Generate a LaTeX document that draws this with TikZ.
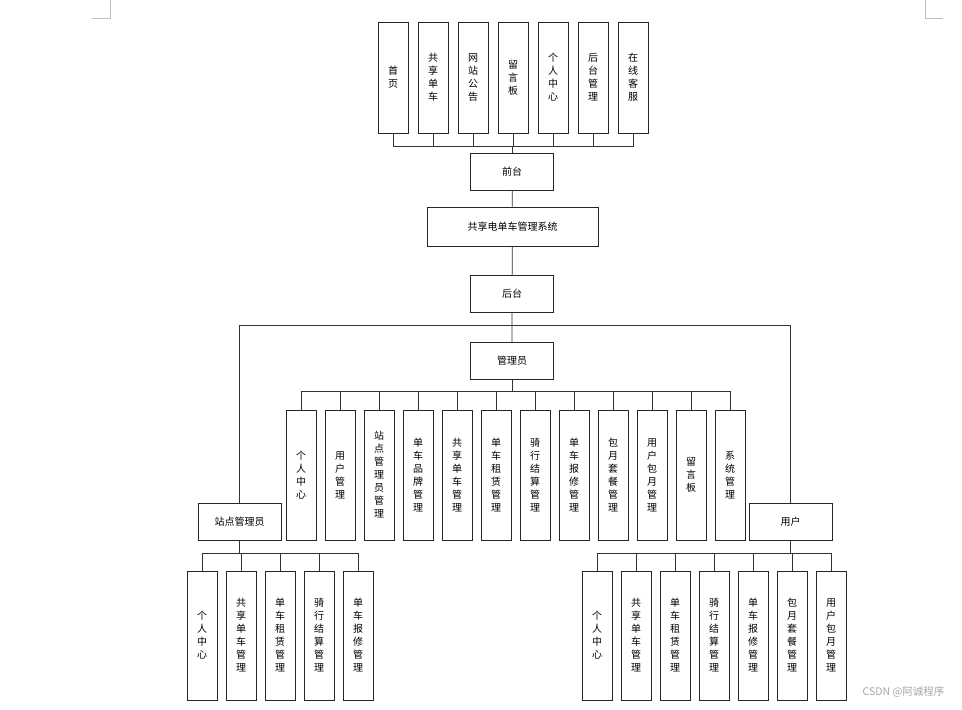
\documentclass[tikz,border=0pt]{standalone}
\usepackage{fontspec}
\newfontfamily\cjk{Noto Sans CJK SC}
\begin{document}
\begin{tikzpicture}[x=1pt,y=-1pt,
  box/.style={draw=black!85,line width=0.8pt,fill=white,font=\cjk\fontsize{10}{13}\selectfont,inner sep=0pt,align=center},
  vbox/.style={box,minimum width=30pt,minimum height=#1},
  hbox/.style={box,minimum width=83pt,minimum height=37pt},
  ln/.style={draw=black!80,line width=0.8pt}]
\useasboundingbox (0,0) rectangle (962,710);
\fill[white] (0,0) rectangle (962,710);
\draw[black!25] (110,0)--(110,18)--(92,18) (925,0)--(925,18)--(943,18);
% top level
\node[hbox] (qt) at (512,171.5) {前台};
\node[box,minimum width=171pt,minimum height=39pt] (sys) at (512.5,226.5) {共享电单车管理系统};
\node[hbox] (ht) at (512,293.5) {后台};
\node[hbox] (gly) at (512,361) {管理员};
\node[hbox] (zd) at (239.5,521.5) {站点管理员};
\node[hbox] (yh) at (790.5,521.5) {用户};
\draw[ln] (qt)--(sys) (sys)--(ht) (ht)--(gly);
\coordinate (cl) at (239.5,325);
\coordinate (cr) at (790.5,325);
\draw[ln] (zd.north)--(cl)--(cr)--(yh.north);
% front children
\foreach \t [count=\i from 0] in {首\\页,共\\享\\单\\车,网\\站\\公\\告,留\\言\\板,个\\人\\中\\心,后\\台\\管\\理,在\\线\\客\\服}{
  \node[vbox=111pt] (f\i) at (393+40*\i,77.5) {\t};
  \draw[ln] (f\i.south)--++(0,13)-|(qt.north);
}
% admin children
\foreach \t [count=\i from 0] in {个\\人\\中\\心,用\\户\\管\\理,站\\点\\管\\理\\员\\管\\理,单\\车\\品\\牌\\管\\理,共\\享\\单\\车\\管\\理,单\\车\\租\\赁\\管\\理,骑\\行\\结\\算\\管\\理,单\\车\\报\\修\\管\\理,包\\月\\套\\餐\\管\\理,用\\户\\包\\月\\管\\理,留\\言\\板,系\\统\\管\\理}{
  \node[vbox=130pt] (a\i) at (301+39*\i,475) {\t};
  \draw[ln] (a\i.north)--++(0,-18)-|(gly.south);
}
% station children
\foreach \t [count=\i from 0] in {个\\人\\中\\心,共\\享\\单\\车\\管\\理,单\\车\\租\\赁\\管\\理,骑\\行\\结\\算\\管\\理,单\\车\\报\\修\\管\\理}{
  \node[vbox=129pt] (s\i) at (202+39*\i,635.5) {\t};
  \draw[ln] (s\i.north)--++(0,-17)-|(zd.south);
}
% user children
\foreach \t [count=\i from 0] in {个\\人\\中\\心,共\\享\\单\\车\\管\\理,单\\车\\租\\赁\\管\\理,骑\\行\\结\\算\\管\\理,单\\车\\报\\修\\管\\理,包\\月\\套\\餐\\管\\理,用\\户\\包\\月\\管\\理}{
  \node[vbox=129pt] (u\i) at (597+39*\i,635.5) {\t};
  \draw[ln] (u\i.north)--++(0,-17)-|(yh.south);
}
\node[font=\cjk\fontsize{10.5}{12}\selectfont,text=black!35,anchor=east] (wm) at (948,692) {CSDN @阿诚程序};
\end{tikzpicture}
\end{document}
